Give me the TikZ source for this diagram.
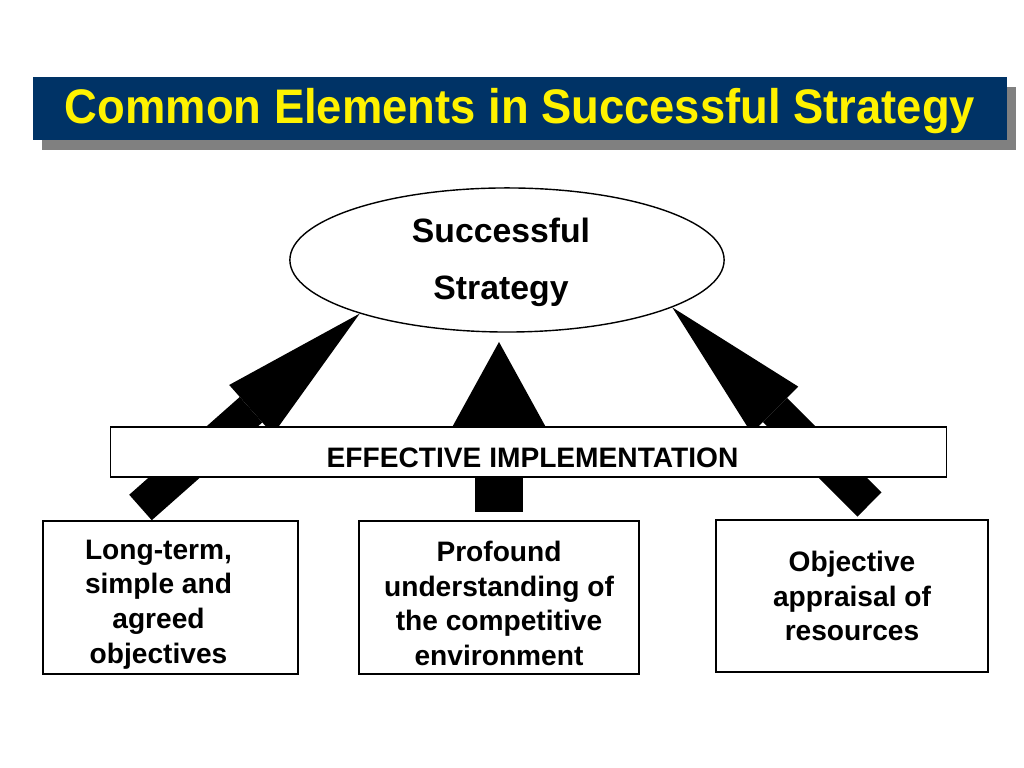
\documentclass[tikz,border=0pt]{standalone}
\usepackage{fontspec}
\setmainfont{Liberation Sans}
\usetikzlibrary{shapes.geometric, arrows.meta, positioning, shadows}
\definecolor{bannerblue}{RGB}{0,51,102}
\definecolor{bannergray}{RGB}{128,128,128}
\tikzstyle{banner} = [
    rectangle,
    fill=bannerblue,
    minimum width=9.74cm,
    minimum height=0.63cm,
    inner sep=0pt,
    drop shadow={shadow xshift=0.09cm, shadow yshift=-0.1cm,
                 fill=bannergray, opacity=1}
]
\tikzstyle{bannertext} = [
    inner sep=0pt,
    text=yellow,
    font=\fontsize{12.9}{14}\selectfont\bfseries
]
\tikzstyle{goal} = [
    ellipse,
    draw=black,
    thin,
    fill=white,
    minimum width=4.34cm,
    minimum height=1.44cm,
    inner sep=0pt
]
\tikzstyle{goaltext} = [
    inner sep=0pt,
    align=center,
    font=\fontsize{9.6}{16.3}\selectfont\bfseries
]
\tikzstyle{bar} = [
    rectangle,
    draw=black,
    thin,
    fill=white,
    minimum width=8.35cm,
    minimum height=0.5cm,
    inner sep=0pt
]
\tikzstyle{element} = [
    rectangle,
    draw=black,
    thin,
    minimum height=1.53cm,
    inner sep=0pt
]
\tikzstyle{elementtext} = [
    inner sep=0pt,
    align=center,
    font=\fontsize{8}{9.9}\selectfont\bfseries
]
\tikzstyle{blockarrow} = [
    line width=0.34cm,
    -{Triangle[length=1.45cm, width=0.66cm, line width=0pt]}
]

\begin{document}
\begin{tikzpicture}[x=0.01cm, y=-0.01cm]

\useasboundingbox (0,0) rectangle (1024,768);

\node (title) [banner] at (520,108.5) {};
\node (title text) [bannertext] at (520,111)
{\scalebox{1}[1.07]{Common Elements in Successful Strategy}};

\node (goal) [goal] at (507,260) {};
\node (goal text) [goaltext] at (501,262.5)
{Successful\\Strategy};

\node (objectives) [element, minimum width=2.55cm] at (170.5,597.5) {};
\node (objectives text) [elementtext] at (158.5,604.5)
{Long-term,\\simple and\\agreed\\objectives};

\node (environment) [element, minimum width=2.8cm] at (499,597.5) {};
\node (environment text) [elementtext] at (499,603.5)
{Profound\\understanding of\\the competitive\\environment};

\node (resources) [element, minimum width=2.72cm, minimum height=1.52cm] at (852,596) {};
\node (resources text) [elementtext] at (852,596)
{Objective\\appraisal of\\resources};

\coordinate (objectives tail) at (140.5,507.5);
\coordinate (environment tail) at (499,512);
\coordinate (environment tip) at (499,342);
\coordinate (resources tail) at (869.5,504.5);

\draw [blockarrow] (objectives tail) -- (goal.200);

\draw [blockarrow, line width=0.48cm,
       -{Triangle[length=1.0cm, width=1.1cm, line width=0pt]}]
(environment tail) -- (environment tip);

\draw [blockarrow] (resources tail) -- (goal.344);

\node (implementation) [bar] at (528.5,452) {};
\node (implementation text) [elementtext] at (532.5,457.5)
{EFFECTIVE IMPLEMENTATION};

\end{tikzpicture}
\end{document}
